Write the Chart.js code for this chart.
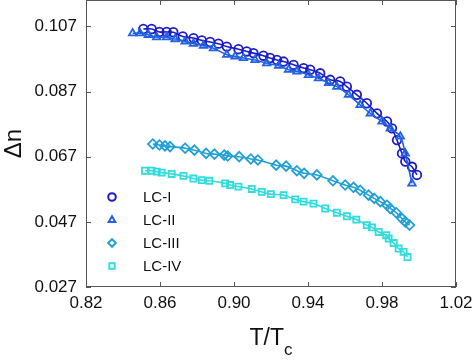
<!DOCTYPE html>
<html>
<head>
<meta charset="utf-8">
<script src="https://cdn.jsdelivr.net/npm/chart.js@4.4.1/dist/chart.umd.min.js"></script>
<style>
  html, body { margin: 0; padding: 0; background: #fff; }
  #wrap { width: 474px; height: 362px; }
</style>
</head>
<body>
<div id="wrap"><canvas id="dn-chart" width="474" height="362"></canvas></div>
<script>
// Data (x = T/Tc, y = birefringence)
var seriesLabels = ["LC-I", "LC-II", "LC-III", "LC-IV"];
var seriesColors = ["#1c1cc8", "#2262e0", "#22a0d4", "#30dcdc"];
var seriesStyles = ["circle", "triangle", "rectRot", "rect"];

var lc1X = [0.8510, 0.8555, 0.8597, 0.8636, 0.8672, 0.8723, 0.8781, 0.8826, 0.8871, 0.8916, 0.8961, 0.9024, 0.9069, 0.9105, 0.9159, 0.9195, 0.9232, 0.9268, 0.9322, 0.9376, 0.9412, 0.9466, 0.9520, 0.9574, 0.9610, 0.9664, 0.9718, 0.9773, 0.9827, 0.9854, 0.9881, 0.9908, 0.9926, 0.9962, 0.9989];
var lc1Y = [0.1062, 0.1062, 0.1053, 0.1053, 0.1052, 0.1039, 0.1034, 0.1027, 0.1022, 0.1017, 0.1008, 0.1000, 0.0993, 0.0988, 0.0980, 0.0973, 0.0967, 0.0962, 0.0952, 0.0942, 0.0937, 0.0926, 0.0906, 0.0901, 0.0885, 0.0860, 0.0834, 0.0803, 0.0778, 0.0757, 0.0721, 0.0680, 0.0655, 0.0639, 0.0614];

var lc2X = [0.8452, 0.8492, 0.8537, 0.8582, 0.8636, 0.8682, 0.8736, 0.8781, 0.8835, 0.8889, 0.8961, 0.9006, 0.9051, 0.9114, 0.9177, 0.9241, 0.9295, 0.9340, 0.9403, 0.9457, 0.9511, 0.9556, 0.9619, 0.9682, 0.9737, 0.9800, 0.9845, 0.9899, 0.9926, 0.9962];
var lc2Y = [0.1049, 0.1049, 0.1044, 0.1037, 0.1037, 0.1031, 0.1024, 0.1017, 0.1011, 0.1003, 0.0983, 0.0978, 0.0973, 0.0967, 0.0957, 0.0949, 0.0937, 0.0932, 0.0921, 0.0911, 0.0896, 0.0885, 0.0860, 0.0829, 0.0803, 0.0778, 0.0757, 0.0732, 0.0680, 0.0588];

var lc3X = [0.8561, 0.8597, 0.8627, 0.8654, 0.8736, 0.8786, 0.8849, 0.8894, 0.8947, 0.8966, 0.9028, 0.9091, 0.9129, 0.9228, 0.9282, 0.9340, 0.9379, 0.9448, 0.9535, 0.9601, 0.9646, 0.9682, 0.9727, 0.9758, 0.9791, 0.9827, 0.9845, 0.9877, 0.9908, 0.9926, 0.9949];
var lc3Y = [0.0709, 0.0706, 0.0703, 0.0701, 0.0696, 0.0690, 0.0680, 0.0678, 0.0675, 0.0672, 0.0670, 0.0663, 0.0660, 0.0644, 0.0641, 0.0627, 0.0619, 0.0614, 0.0596, 0.0583, 0.0576, 0.0567, 0.0552, 0.0542, 0.0532, 0.0521, 0.0511, 0.0498, 0.0480, 0.0470, 0.0460];

var lc4X = [0.8519, 0.8555, 0.8582, 0.8609, 0.8663, 0.8727, 0.8781, 0.8826, 0.8867, 0.8952, 0.8979, 0.9024, 0.9096, 0.9150, 0.9199, 0.9268, 0.9331, 0.9376, 0.9430, 0.9493, 0.9556, 0.9610, 0.9661, 0.9718, 0.9746, 0.9782, 0.9823, 0.9836, 0.9863, 0.9890, 0.9917, 0.9938];
var lc4Y = [0.0627, 0.0627, 0.0624, 0.0621, 0.0617, 0.0611, 0.0603, 0.0598, 0.0596, 0.0588, 0.0583, 0.0578, 0.0571, 0.0562, 0.0555, 0.0552, 0.0539, 0.0532, 0.0526, 0.0511, 0.0498, 0.0487, 0.0477, 0.0460, 0.0453, 0.0439, 0.0429, 0.0419, 0.0405, 0.0388, 0.0378, 0.0362];

var xTicks = [0.82, 0.86, 0.90, 0.94, 0.98, 1.02];
var yTicks = [0.027, 0.047, 0.067, 0.087, 0.107];

var allX = [lc1X, lc2X, lc3X, lc4X];
var allY = [lc1Y, lc2Y, lc3Y, lc4Y];

function toPoints(xs, ys) {
    return xs.map(function (x, i) { return { x: x, y: ys[i] }; });
}

var FONT = "'Liberation Sans', Arial, sans-serif";

// frame box with inward ticks on all four sides
var framePlugin = {
    id: "frame",
    afterDraw: function (chart) {
        var ctx = chart.ctx, a = chart.chartArea;
        var xs = chart.scales.x, ys = chart.scales.y;
        ctx.save();
        ctx.strokeStyle = "#555";
        ctx.lineWidth = 1;
        ctx.strokeRect(a.left + 0.5, a.top + 0.5, a.right - a.left - 1, a.bottom - a.top - 1);
        ctx.beginPath();
        xTicks.forEach(function (v) {
            var px = Math.round(xs.getPixelForValue(v)) + 0.5;
            ctx.moveTo(px, a.bottom); ctx.lineTo(px, a.bottom - 5);
            ctx.moveTo(px, a.top); ctx.lineTo(px, a.top + 5);
        });
        yTicks.forEach(function (v) {
            var py = Math.round(ys.getPixelForValue(v)) + 0.5;
            ctx.moveTo(a.left, py); ctx.lineTo(a.left + 5, py);
            ctx.moveTo(a.right, py); ctx.lineTo(a.right - 5, py);
        });
        ctx.stroke();

        // x axis title with subscript
        ctx.fillStyle = "#111";
        ctx.textBaseline = "alphabetic";
        ctx.font = "23px " + FONT;
        var main = "T/T";
        var w1 = ctx.measureText(main).width;
        ctx.font = "17px " + FONT;
        var w2 = ctx.measureText("c").width;
        var cx = (a.left + a.right) / 2;
        var sx = cx - (w1 + w2) / 2;
        ctx.font = "23px " + FONT;
        ctx.fillText(main, sx, 345);
        ctx.font = "17px " + FONT;
        ctx.fillText("c", sx + w1, 355);
        ctx.restore();
    }
};

// legend drawn inside the plot area, lower left
var innerLegend = {
    id: "innerLegend",
    afterDatasetsDraw: function (chart) {
        var ctx = chart.ctx;
        ctx.save();
        seriesLabels.forEach(function (lbl, i) {
            var y = 197 + i * 23;
            ctx.strokeStyle = seriesColors[i];
            ctx.fillStyle = "rgba(0,0,0,0)";
            ctx.lineWidth = 2;
            Chart.helpers.drawPoint(ctx, { pointStyle: seriesStyles[i], radius: 3.8, borderWidth: 2, rotation: 0 }, 112, y);
            ctx.fillStyle = "#111";
            ctx.font = "15px " + FONT;
            ctx.textBaseline = "middle";
            ctx.textAlign = "left";
            ctx.fillText(lbl, 143, y + 1);
        });
        ctx.restore();
    }
};

var datasets = seriesLabels.map(function (lbl, i) {
    return {
        label: lbl,
        data: toPoints(allX[i], allY[i]),
        showLine: true,
        tension: 0.3,
        borderColor: seriesColors[i],
        backgroundColor: "rgba(0,0,0,0)",
        borderWidth: 1.6,
        pointStyle: seriesStyles[i],
        pointRadius: seriesStyles[i] === "rectRot" ? 4.8 : 4.3,
        pointBorderWidth: 1.8,
        pointBorderColor: seriesColors[i],
        pointBackgroundColor: "rgba(0,0,0,0)"
    };
}).reverse();

var chartOptions = {
    responsive: false,
    animation: false,
    layout: { autoPadding: false, padding: { top: 0, right: 18, left: 0, bottom: 0 } },
    plugins: {
        legend: { display: false },
        tooltip: { enabled: false }
    },
    scales: {
        x: {
            type: "linear",
            min: 0.82,
            max: 1.02,
            grid: { display: false, drawTicks: false },
            border: { display: false },
            afterBuildTicks: function (s) { s.ticks = xTicks.map(function (v) { return { value: v }; }); },
            afterFit: function (s) { s.height = 75; s.paddingLeft = 0; s.paddingRight = 0; },
            ticks: {
                padding: 6,
                color: "#111",
                font: { family: FONT, size: 17 },
                maxRotation: 0,
                callback: function (v) { return v.toFixed(2); }
            }
        },
        y: {
            type: "linear",
            min: 0.027,
            max: 0.1151,
            grid: { display: false, drawTicks: false },
            border: { display: false },
            afterBuildTicks: function (s) { s.ticks = yTicks.map(function (v) { return { value: v }; }); },
            afterFit: function (s) { s.width = 86; s.paddingTop = 0; s.paddingBottom = 0; },
            title: {
                display: true,
                text: "Δn",
                color: "#111",
                font: { family: FONT, size: 24 },
                padding: { top: 0, bottom: 0 }
            },
            ticks: {
                padding: 9,
                color: "#111",
                font: { family: FONT, size: 17 },
                callback: function (v) { return v.toFixed(3); }
            }
        }
    }
};

var ctx = document.getElementById("dn-chart");
var dnChart = new Chart(ctx, {
    type: "scatter",
    data: { datasets: datasets },
    options: chartOptions,
    plugins: [framePlugin, innerLegend]
});
</script>
</body>
</html>
